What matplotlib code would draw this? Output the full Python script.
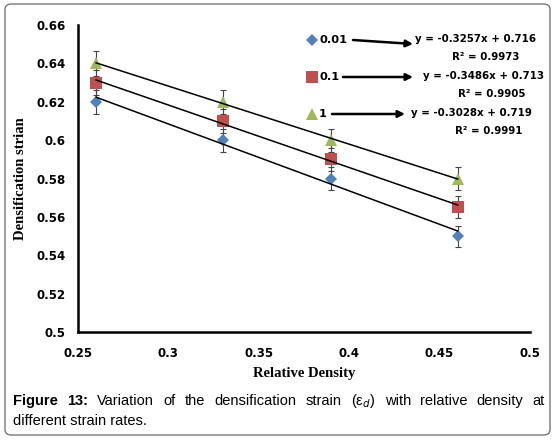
import numpy as np
import matplotlib
matplotlib.use("Agg")
import matplotlib.pyplot as plt
from matplotlib.patches import FancyBboxPatch

# data
rel_density = [0.26, 0.33, 0.39, 0.46]
strain_001 = [0.62, 0.60, 0.58, 0.55]
strain_01 = [0.63, 0.61, 0.59, 0.565]
strain_1 = [0.64, 0.62, 0.60, 0.58]
err_001 = [0.0062, 0.0060, 0.0058, 0.0055]
err_01 = [0.0063, 0.0061, 0.0059, 0.0057]
err_1 = [0.0064, 0.0062, 0.0060, 0.0058]

rates = ["0.01", "0.1", "1"]
equations = ["y = -0.3257x + 0.716", "y = -0.3486x + 0.713", "y = -0.3028x + 0.719"]
r_squared = ["R² = 0.9973", "R² = 0.9905", "R² = 0.9991"]
x_ticks = [0.25, 0.3, 0.35, 0.4, 0.45, 0.5]
x_ticklabels = ["0.25", "0.3", "0.35", "0.4", "0.45", "0.5"]
y_ticks = [0.5, 0.52, 0.54, 0.56, 0.58, 0.6, 0.62, 0.64, 0.66]
y_ticklabels = ["0.5", "0.52", "0.54", "0.56", "0.58", "0.6", "0.62", "0.64", "0.66"]

W, H = 557, 443


def px(x, y):
    # pixel position (from top-left) to figure fraction
    return x / W, 1 - y / H


fig = plt.figure(figsize=(W / 100, H / 100), dpi=100)
ax = fig.add_axes([78 / W, 1 - 332 / H, (530 - 78) / W, (332 - 25) / H])

series = [
    (strain_001, err_001, "D", "#4F81BD", 6),
    (strain_01, err_01, "s", "#C0504D", 8),
    (strain_1, err_1, "^", "#9BBB59", 8),
]

for vals, errs, mk, col, ms in series:
    ax.errorbar(rel_density, vals, yerr=errs, fmt="none", ecolor="#444444",
                elinewidth=0.8, capsize=2.5, capthick=0.8, zorder=2)
    ax.plot(rel_density, vals, linestyle="none", marker=mk, color=col,
            markersize=ms, markeredgewidth=0, zorder=3)
    k, b = np.polyfit(rel_density, vals, 1)
    xs = np.array([rel_density[0], rel_density[-1]])
    ax.plot(xs, k * xs + b, color="black", lw=1.1, zorder=4)

ax.set_xlim(0.25, 0.5)
ax.set_ylim(0.5, 0.66)
ax.set_xticks(x_ticks)
ax.set_xticklabels(x_ticklabels)
ax.set_yticks(y_ticks)
ax.set_yticklabels(y_ticklabels)
for lab in ax.get_xticklabels() + ax.get_yticklabels():
    lab.set_fontfamily("DejaVu Sans")
    lab.set_fontweight("bold")
    lab.set_fontsize(8.5)
ax.tick_params(axis="both", length=0)
ax.tick_params(axis="x", pad=11)
ax.tick_params(axis="y", pad=9)

ax.spines["top"].set_visible(False)
ax.spines["right"].set_visible(False)
ax.spines["left"].set_linewidth(1.8)
ax.spines["bottom"].set_linewidth(1.8)

ax.set_xlabel("Relative Density", family="Liberation Serif", fontweight="bold", fontsize=10.5)
ax.set_ylabel("Densification strian", family="Liberation Serif", fontweight="bold", fontsize=10.5)
ax.xaxis.set_label_coords(0.5, -0.115)
ax.yaxis.set_label_coords(-0.113, 0.5)

# legend-like labels with arrows and trendline equations
leg_y = [40, 77, 114]
arrow_start = [353, 343, 332]
arrow_end = [413, 413, 405]
eq_x = [415, 423, 411]
r2_x = [486, 492, 489]
for i in range(3):
    fig.lines.append(plt.Line2D([311.7 / W], [1 - leg_y[i] / H], marker=series[i][2],
                                color=series[i][3], markersize=series[i][4],
                                markeredgewidth=0, linestyle="none",
                                transform=fig.transFigure, figure=fig))
    fig.text(*px(319, leg_y[i]), rates[i], fontsize=8.2, fontweight="bold",
             family="DejaVu Sans", va="center", ha="left")
    y_end = leg_y[i] + (4 if i == 0 else 0)
    ax.annotate("", xy=px(arrow_end[i], y_end), xytext=px(arrow_start[i], leg_y[i]),
                xycoords="figure fraction", textcoords="figure fraction",
                arrowprops=dict(arrowstyle="-|>", color="black", lw=1.8,
                                mutation_scale=10, shrinkA=0, shrinkB=0))
    fig.text(*px(eq_x[i], leg_y[i] - 1), equations[i], fontsize=7.4, fontweight="bold",
             family="DejaVu Sans", va="center", ha="left")
    fig.text(*px(r2_x[i], leg_y[i] + 17), r_squared[i], fontsize=7.4, fontweight="bold",
             family="DejaVu Sans", va="center", ha="center")

# caption, first line justified
line1 = ["Figure", "13:", "Variation", "of", "the", "densification", "strain",
         "(ε$_d$)", "with", "relative", "density", "at"]
bold_words = 2
renderer = fig.canvas.get_renderer()
texts = []
for j, word in enumerate(line1):
    t = fig.text(0, 1 - 401 / H, word, fontsize=10.5, family="Liberation Sans",
                 fontweight="bold" if j < bold_words else "normal", va="center", ha="left")
    texts.append(t)
widths = [t.get_window_extent(renderer).width for t in texts]
left, right = 13, 545
gap = (right - left - sum(widths)) / (len(texts) - 1)
xpos = left
for t, w in zip(texts, widths):
    t.set_x(xpos / W)
    xpos += w + gap
fig.text(*px(13, 421), "different strain rates.", fontsize=10.5, family="Liberation Sans",
         va="center", ha="left")

# rounded frame
frame = FancyBboxPatch((5 / W, 1 - 435 / H), 545 / W, 431 / H,
                       boxstyle="round,pad=0,rounding_size=0.012",
                       transform=fig.transFigure, fill=False, edgecolor="#777777", lw=1.0)
fig.patches.append(frame)

fig.savefig("out.png", dpi=100)
